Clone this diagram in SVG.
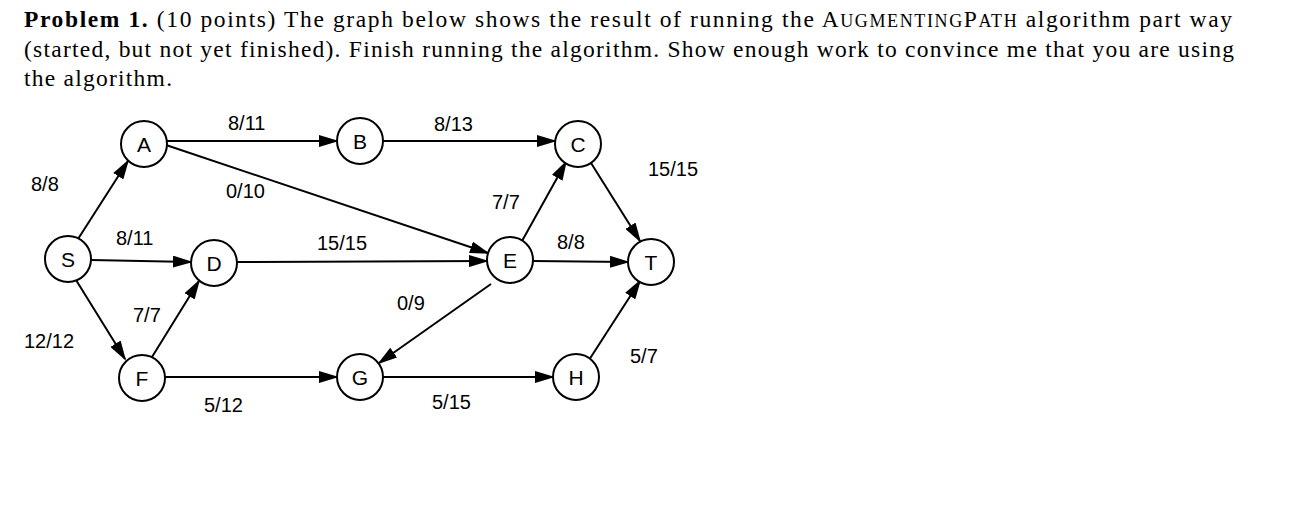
<svg xmlns="http://www.w3.org/2000/svg" width="1312" height="508" viewBox="0 0 1312 508">
<style>
.t{font-family:"Liberation Serif",serif;font-size:23.5px;fill:#000}
.n circle{fill:#fff;stroke:#000;stroke-width:2}
.n text,.l{font-family:"Liberation Sans",Arial,sans-serif;font-size:20px;fill:#000}
.n text{text-anchor:middle;font-size:21px}
.e line{stroke:#000;stroke-width:2;marker-end:url(#a)}
</style>
<defs><marker id="a" markerWidth="20" markerHeight="12" refX="18" refY="6" orient="auto" markerUnits="userSpaceOnUse"><path d="M0,0L20,6L0,12z" fill="#000"/></marker></defs>
<rect width="1312" height="508" fill="#fff"/>
<text class="t" x="24" y="27" textLength="1208" lengthAdjust="spacing"><tspan font-weight="bold">Problem  1.</tspan> (10 points) The graph below shows the result of running the A<tspan font-size="18">UGMENTING</tspan>P<tspan font-size="18">ATH</tspan> algorithm part way</text>
<text class="t" x="24" y="57" textLength="1210" lengthAdjust="spacing">(started, but not yet finished). Finish running the algorithm. Show enough work to convince me that you are using</text>
<text class="t" x="24" y="86" textLength="148" lengthAdjust="spacing">the algorithm.</text>
<g class="e">
<line x1="166" y1="141" x2="337" y2="141"/>
<line x1="383" y1="141" x2="555" y2="141"/>
<line x1="166" y1="145" x2="488" y2="253"/>
<line x1="591" y1="163" x2="640" y2="241"/>
<line x1="78" y1="239" x2="128" y2="161"/>
<line x1="91" y1="260" x2="191" y2="262"/>
<line x1="237" y1="262" x2="487" y2="261"/>
<line x1="522" y1="241" x2="566" y2="162"/>
<line x1="533" y1="261" x2="628" y2="262"/>
<line x1="491" y1="284" x2="379" y2="363"/>
<line x1="76" y1="280" x2="125" y2="359"/>
<line x1="152" y1="357" x2="199" y2="281"/>
<line x1="165" y1="377" x2="337" y2="377"/>
<line x1="383" y1="377" x2="553" y2="377"/>
<line x1="589" y1="360" x2="640" y2="281"/>
</g>
<g>
<text class="l" x="228" y="130">8/11</text>
<text class="l" x="434" y="131">8/13</text>
<text class="l" x="226" y="198">0/10</text>
<text class="l" x="648" y="176">15/15</text>
<text class="l" x="31" y="191">8/8</text>
<text class="l" x="116" y="245">8/11</text>
<text class="l" x="317" y="250">15/15</text>
<text class="l" x="492" y="209">7/7</text>
<text class="l" x="557" y="249">8/8</text>
<text class="l" x="397" y="310">0/9</text>
<text class="l" x="24" y="348">12/12</text>
<text class="l" x="133" y="322">7/7</text>
<text class="l" x="204" y="412">5/12</text>
<text class="l" x="432" y="409">5/15</text>
<text class="l" x="630" y="363">5/7</text>
</g>
<g id="A" class="n"><circle cx="144" cy="144" r="23"/><text x="144" y="152">A</text></g>
<g id="B" class="n"><circle cx="360" cy="141" r="23"/><text x="360" y="149">B</text></g>
<g id="C" class="n"><circle cx="578" cy="144" r="23"/><text x="578" y="152">C</text></g>
<g id="S" class="n"><circle cx="68" cy="259" r="23"/><text x="68" y="267">S</text></g>
<g id="D" class="n"><circle cx="214" cy="263" r="23"/><text x="214" y="271">D</text></g>
<g id="E" class="n"><circle cx="510" cy="260" r="23"/><text x="510" y="268">E</text></g>
<g id="T" class="n"><circle cx="651" cy="262" r="23"/><text x="651" y="270">T</text></g>
<g id="F" class="n"><circle cx="142" cy="378" r="23"/><text x="142" y="386">F</text></g>
<g id="G" class="n"><circle cx="360" cy="377" r="23"/><text x="360" y="385">G</text></g>
<g id="H" class="n"><circle cx="576" cy="377" r="23"/><text x="576" y="385">H</text></g>
</svg>
